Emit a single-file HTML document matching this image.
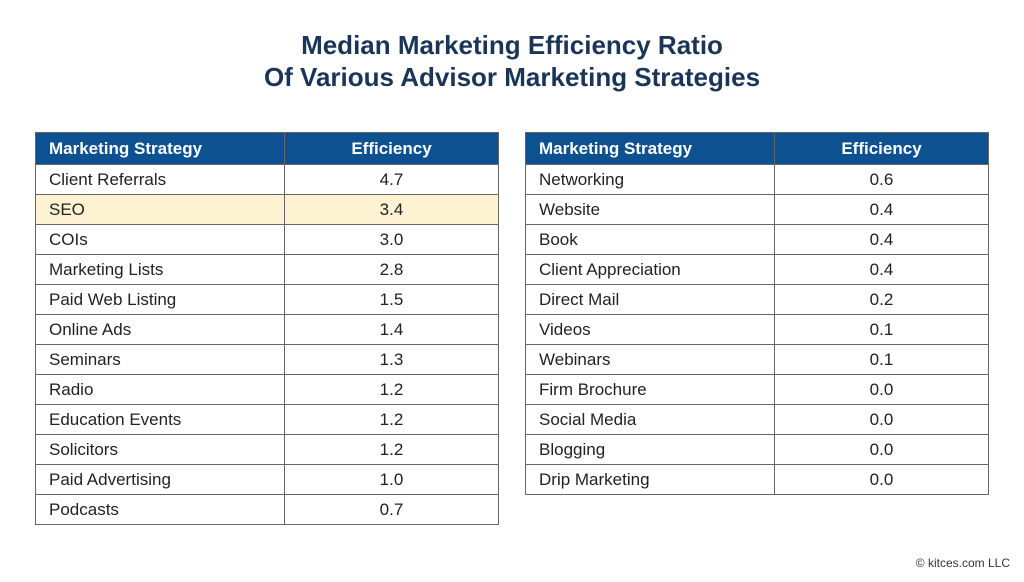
<!DOCTYPE html>
<html><head><meta charset="utf-8">
<style>
body{margin:0;width:1024px;height:582px;background:#fff;font-family:"Liberation Sans",sans-serif;position:relative;overflow:hidden}
.t{position:absolute;left:0;width:1024px;text-align:center;color:#1b3558;font-weight:bold;font-size:26px}
table{position:absolute;border-collapse:collapse;top:132px;table-layout:fixed}
td,th{border:1px solid #666;height:29px;padding:0;font-size:17px;color:#222;font-weight:normal}
th{background:#0d5191;color:#fff;font-weight:bold;height:31px}
td.n,th.n{text-align:center}
td.s,th.s{text-align:left;padding-left:13px}
tr.hl td{background:#fdf3d3}
.c{position:absolute;right:14px;top:556px;font-size:12px;color:#333}
</style></head><body>
<div class="t" style="top:30px">Median Marketing Efficiency Ratio</div>
<div class="t" style="top:62px">Of Various Advisor Marketing Strategies</div>
<table id="t1" style="left:35px;width:463px"></table>
<table id="t2" style="left:525px;width:463px"></table>
<div class="c">© kitces.com LLC</div>
<script>
const leftStrategies=["Client Referrals","SEO","COIs","Marketing Lists","Paid Web Listing","Online Ads","Seminars","Radio","Education Events","Solicitors","Paid Advertising","Podcasts"];
const leftValues=[4.7,3.4,3.0,2.8,1.5,1.4,1.3,1.2,1.2,1.2,1.0,0.7];
const rightStrategies=["Networking","Website","Book","Client Appreciation","Direct Mail","Videos","Webinars","Firm Brochure","Social Media","Blogging","Drip Marketing"];
const rightValues=[0.6,0.4,0.4,0.4,0.2,0.1,0.1,0.0,0.0,0.0,0.0];
const highlight="SEO";
function build(id,names,vals){
  const t=document.getElementById(id);
  let h='<colgroup><col style="width:249px"><col style="width:214px"></colgroup>';
  h+='<tr><th class="s">Marketing Strategy</th><th class="n">Efficiency</th></tr>';
  names.forEach((n,i)=>{
    h+='<tr class="'+(n===highlight?'hl':'')+'"><td class="s">'+n+'</td><td class="n">'+vals[i].toFixed(1)+'</td></tr>';
  });
  t.innerHTML=h;
}
build("t1",leftStrategies,leftValues);
build("t2",rightStrategies,rightValues);
</script>
</body></html>
